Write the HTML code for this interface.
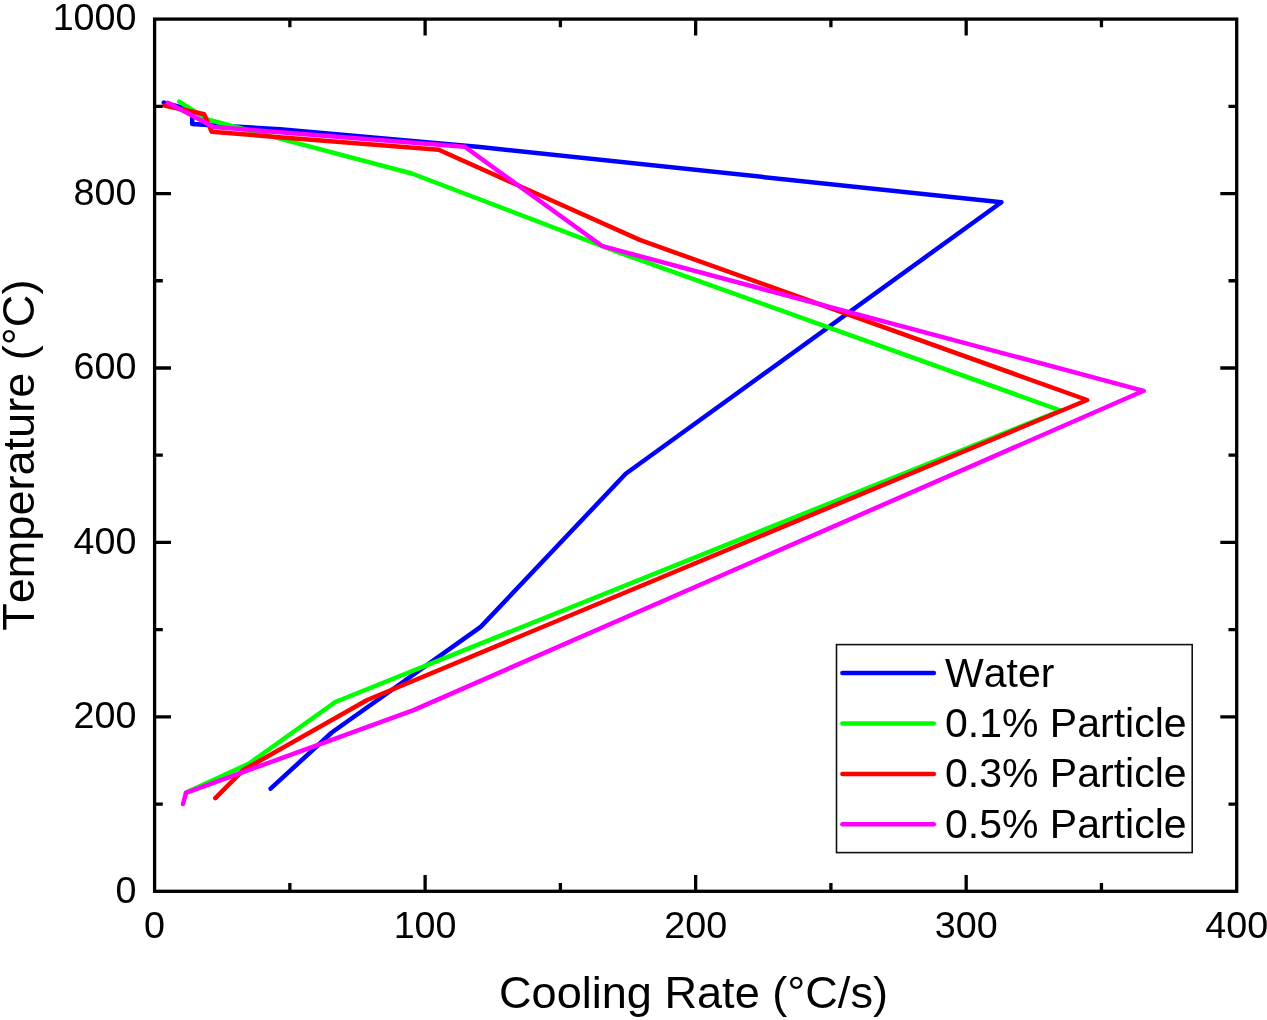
<!DOCTYPE html>
<html lang="en">
<head>
<meta charset="utf-8">
<title>Cooling Rate vs Temperature</title>
<style>
html,body{margin:0;padding:0;background:#fff;}
body{width:1267px;height:1020px;overflow:hidden;}
svg{display:block;}
text{font-family:"Liberation Sans",Arial,Helvetica,sans-serif;fill:#000;font-kerning:none;}
.tick{font-size:37.7px;}
.title{font-size:45.1px;}
.leg{font-size:41px;}
</style>
</head>
<body>
<svg width="1267" height="1020" viewBox="0 0 1267 1020">
<rect x="0" y="0" width="1267" height="1020" fill="#ffffff"/>
<g fill="none" stroke-width="4.50" stroke-linecap="round" stroke-linejoin="round">
<polyline stroke="#0000ff" points="163.8,102.6 192.2,110.2 192.2,124.1 280.0,129.3 480.0,147.1 1001.4,202.2 625.7,473.8 480.7,626.9 331.8,732.5 270.6,788.7"/>
<polyline stroke="#00ff00" points="179.2,101.6 207.5,119.5 411.8,173.5 620.0,252.8 1060.6,410.5 335.3,702.0 249.0,763.6 186.0,792.6"/>
<polyline stroke="#ff0000" points="164.5,105.5 204.2,114.3 211.8,131.8 438.7,149.8 639.7,239.9 1087.2,400.0 367.2,700.0 243.0,770.3 215.3,798.2"/>
<polyline stroke="#ff00ff" points="167.9,102.8 213.7,127.0 464.8,146.8 602.5,246.2 1143.7,390.8 413.6,710.1 186.0,792.9 183.0,804.0"/>
</g>
<g stroke="#000" stroke-width="3.30" fill="none" stroke-linecap="butt">
<path d="M289.86 891.30V883.10M289.86 19.10V27.30M425.12 891.30V874.90M425.12 19.10V35.50M560.39 891.30V883.10M560.39 19.10V27.30M695.65 891.30V874.90M695.65 19.10V35.50M830.91 891.30V883.10M830.91 19.10V27.30M966.18 891.30V874.90M966.18 19.10V35.50M1101.44 891.30V883.10M1101.44 19.10V27.30M154.60 804.08H162.80M1236.70 804.08H1228.50M154.60 716.86H171.00M1236.70 716.86H1220.30M154.60 629.64H162.80M1236.70 629.64H1228.50M154.60 542.42H171.00M1236.70 542.42H1220.30M154.60 455.20H162.80M1236.70 455.20H1228.50M154.60 367.98H171.00M1236.70 367.98H1220.30M154.60 280.76H162.80M1236.70 280.76H1228.50M154.60 193.54H171.00M1236.70 193.54H1220.30M154.60 106.32H162.80M1236.70 106.32H1228.50"/>
<rect x="154.60" y="19.10" width="1082.10" height="872.20" stroke-linejoin="miter"/>
</g>
<g class="tick" text-anchor="end">
<text x="136.5" y="902.5">0</text>
<text x="136.5" y="728.1">200</text>
<text x="136.5" y="553.6">400</text>
<text x="136.5" y="379.2">600</text>
<text x="136.5" y="204.7">800</text>
<text x="136.5" y="30.3">1000</text>
</g>
<g class="tick" text-anchor="middle">
<text x="154.6" y="938.2">0</text>
<text x="425.1" y="938.2">100</text>
<text x="695.7" y="938.2">200</text>
<text x="966.2" y="938.2">300</text>
<text x="1236.7" y="938.2">400</text>
</g>
<text class="title" text-anchor="middle" x="693.5" y="1007.5">Cooling Rate (°C/s)</text>
<text class="title" text-anchor="middle" transform="translate(34.3 455.2) rotate(-90)">Temperature (°C)</text>
<rect x="836.5" y="644.6" width="355.7" height="208.0" fill="#fff" stroke="#111" stroke-width="1.6"/>
<g stroke-width="4.50" stroke-linecap="round">
<line x1="842.4" x2="933.8" y1="673.1" y2="673.1" stroke="#0000ff"/>
<line x1="842.4" x2="933.8" y1="723.5" y2="723.5" stroke="#00ff00"/>
<line x1="842.4" x2="933.8" y1="774.0" y2="774.0" stroke="#ff0000"/>
<line x1="842.4" x2="933.8" y1="824.3" y2="824.3" stroke="#ff00ff"/>
</g>
<g class="leg">
<text x="945.0" y="686.5">Water</text>
<text x="945.0" y="736.9">0.1% Particle</text>
<text x="945.0" y="787.4">0.3% Particle</text>
<text x="945.0" y="837.7">0.5% Particle</text>
</g>
</svg>
</body>
</html>
